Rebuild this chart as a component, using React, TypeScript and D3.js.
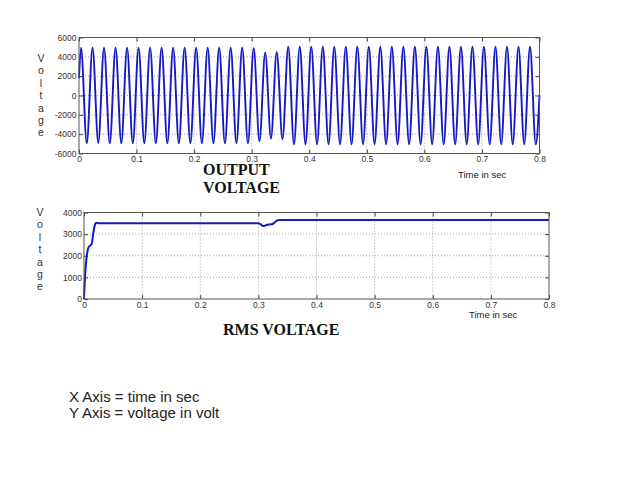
import { useRef, useEffect } from "react";
import * as d3 from "d3";

// time axis ticks (seconds)
const timeTicks = [0, 0.1, 0.2, 0.3, 0.4, 0.5, 0.6, 0.7, 0.8];
const outputTicks = [-6000, -4000, -2000, 0, 2000, 4000, 6000];
const rmsTicks = [0, 1000, 2000, 3000, 4000];

// peak / trough values of each half cycle of the output voltage (50 Hz)
const outputPeaks = [
  4950, -4950, 4950, -4900, 4950, -4950, 4950, -4950, 4950, -4950,
  4950, -4950, 4950, -4950, 4950, -4950, 4950, -4950, 4950, -4950,
  4950, -4950, 4950, -4950, 4950, -4950, 4950, -4950, 4950, -4950,
  4900, -4750, 4450, -4450, 4500, -4550, 5050, -5050, 5050, -5050,
  5050, -5050, 5050, -5050, 5050, -5050, 5050, -5050, 5050, -5050,
  5050, -5050, 5050, -5050, 5050, -5050, 5050, -5050, 5050, -5050,
  5050, -5050, 5050, -5050, 5050, -5050, 5050, -5050, 5050, -5050,
  5050, -5050, 5050, -5050, 5050, -5050, 5050, -5050, 5050, -5050,
];
const firstPeakTime = 0.0035;
const halfPeriod = 0.01;
const outputStart = 1800;
const outputEnd = 0;

// rms voltage
const rmsTimes = [
  0, 0.0015, 0.004, 0.006, 0.008, 0.011, 0.0135, 0.016, 0.019, 0.021, 0.024,
  0.3, 0.303, 0.307, 0.31, 0.314, 0.318, 0.324, 0.328, 0.332, 0.336, 0.8,
];
const rmsValues = [
  0, 900, 1800, 2200, 2400, 2480, 2580, 3050, 3450, 3530, 3500,
  3500, 3470, 3390, 3380, 3420, 3445, 3460, 3540, 3630, 3650, 3650,
];

const voltageLetters = ["V", "o", "l", "t", "a", "g", "e"];

const W = 638;
const H = 478;
const LINE = "#1818c4";
const FONT = "'Liberation Sans', Arial, sans-serif";

type Panel = {
  left: number;
  right: number;
  top: number;
  bottom: number;
};

function drawPanel(
  svg: d3.Selection<SVGSVGElement, unknown, null, undefined>,
  p: Panel,
  yDomain: [number, number],
  yTicks: number[],
  points: [number, number][],
  pad: { x: number; y: number },
  width: number
) {
  const x = d3.scaleLinear().domain([0, 0.8]).range([p.left, p.right]);
  const y = d3.scaleLinear().domain(yDomain).range([p.bottom, p.top]);
  const g = svg.append("g");

  // dotted grid
  g.append("g")
    .selectAll("line")
    .data(timeTicks.slice(1, -1))
    .join("line")
    .attr("x1", (d) => x(d))
    .attr("x2", (d) => x(d))
    .attr("y1", p.top)
    .attr("y2", p.bottom)
    .attr("stroke", "#8a8a8a")
    .attr("stroke-width", 0.8)
    .attr("stroke-dasharray", "1,2");
  g.append("g")
    .selectAll("line")
    .data(yTicks.slice(1, -1))
    .join("line")
    .attr("x1", p.left)
    .attr("x2", p.right)
    .attr("y1", (d) => y(d))
    .attr("y2", (d) => y(d))
    .attr("stroke", "#8a8a8a")
    .attr("stroke-width", 0.8)
    .attr("stroke-dasharray", "1,2");

  const styleAxis = (a: d3.Selection<SVGGElement, unknown, null, undefined>) => {
    a.select(".domain").remove();
    a.selectAll("line").attr("stroke", "#444");
    a.selectAll("text")
      .attr("fill", "#333")
      .style("font-family", FONT)
      .style("font-size", "8.5px");
  };

  g.append("g")
    .attr("transform", `translate(0,${p.bottom})`)
    .call(
      d3
        .axisBottom(x)
        .tickValues(timeTicks)
        .tickFormat((d) => String(d))
        .tickSize(-4)
        .tickSizeOuter(0)
        .tickPadding(pad.x)
    )
    .call(styleAxis);
  g.append("g")
    .attr("transform", `translate(0,${p.top})`)
    .call(d3.axisTop(x).tickValues(timeTicks).tickFormat(() => "").tickSize(-4).tickSizeOuter(0))
    .call(styleAxis);
  g.append("g")
    .attr("transform", `translate(${p.left},0)`)
    .call(
      d3
        .axisLeft(y)
        .tickValues(yTicks)
        .tickFormat((d) => String(d))
        .tickSize(-4)
        .tickSizeOuter(0)
        .tickPadding(pad.y)
    )
    .call(styleAxis);
  g.append("g")
    .attr("transform", `translate(${p.right},0)`)
    .call(d3.axisRight(y).tickValues(yTicks).tickFormat(() => "").tickSize(-4).tickSizeOuter(0))
    .call(styleAxis);

  const line = d3
    .line<[number, number]>()
    .x((d) => x(d[0]))
    .y((d) => y(d[1]))
    .curve(d3.curveMonotoneX);

  g.append("path")
    .datum(points)
    .attr("d", line)
    .attr("fill", "none")
    .attr("stroke", LINE)
    .attr("stroke-width", width)
    .attr("stroke-linejoin", "round");

  g.append("rect")
    .attr("x", p.left)
    .attr("y", p.top)
    .attr("width", p.right - p.left)
    .attr("height", p.bottom - p.top)
    .attr("fill", "none")
    .attr("stroke", "#555")
    .attr("stroke-width", 1);
}

const App = () => {
  const svgRef = useRef<SVGSVGElement | null>(null);

  useEffect(() => {
    if (!svgRef.current) return;
    const svg = d3.select(svgRef.current);
    svg.selectAll("*").remove();

    svg.append("rect").attr("width", W).attr("height", H).attr("fill", "#fff");

    // output voltage waveform
    const outputPoints: [number, number][] = [[0, outputStart]];
    outputPeaks.forEach((v, i) => outputPoints.push([firstPeakTime + i * halfPeriod, v]));
    outputPoints.push([0.8, outputEnd]);

    drawPanel(
      svg,
      { left: 79, right: 539.5, top: 37.5, bottom: 153.5 },
      [-6000, 6000],
      outputTicks,
      outputPoints,
      { x: 2, y: 2.5 },
      1.9
    );

    const rmsPoints: [number, number][] = rmsTimes.map((t, i) => [t, rmsValues[i]]);
    drawPanel(
      svg,
      { left: 84, right: 549, top: 212.5, bottom: 299 },
      [0, 4000],
      rmsTicks,
      rmsPoints,
      { x: 3, y: 2 },
      2
    );

    // vertical "Voltage" letters
    const letters = (x0: number, y0: number) =>
      svg
        .append("g")
        .selectAll("text")
        .data(voltageLetters)
        .join("text")
        .attr("x", x0)
        .attr("y", (_, i) => y0 + i * 12.4)
        .attr("text-anchor", "middle")
        .attr("dominant-baseline", "central")
        .attr("fill", "#333")
        .style("font-family", FONT)
        .style("font-size", "10.5px")
        .text((d) => d);
    letters(41, 58);
    letters(40, 212);

    const label = (t: string, x0: number, y0: number, size: number, serif = false) =>
      svg
        .append("text")
        .attr("x", x0)
        .attr("y", y0)
        .attr("fill", serif ? "#111" : "#222")
        .style("font-family", serif ? "'Liberation Serif', 'Times New Roman', serif" : FONT)
        .style("font-weight", serif ? "bold" : "normal")
        .style("font-size", `${size}px`)
        .text(t);

    label("Time in sec", 458, 178, 9.5);
    label("Time in sec", 469, 318, 9.5);
    label("OUTPUT", 203, 175, 16, true);
    label("VOLTAGE", 203, 193, 16, true);
    label("RMS VOLTAGE", 223, 335, 16, true);
    label("X Axis = time in sec", 69, 402, 15);
    label("Y Axis = voltage in volt", 69, 418, 15);
  }, []);

  return (
    <svg
      ref={svgRef}
      width={W}
      height={H}
      style={{ position: "absolute", left: 0, top: 0 }}
    ></svg>
  );
};

export default App;
